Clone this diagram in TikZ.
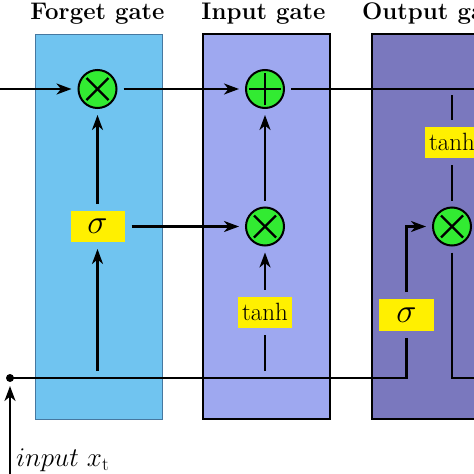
\documentclass[tikz,border=0pt]{standalone}
\usepackage{fix-cm}
\usetikzlibrary{arrows.meta}
\definecolor{forgetfill}{RGB}{112,196,240}
\definecolor{forgetdraw}{RGB}{70,120,160}
\definecolor{inputfill}{RGB}{158,168,240}
\definecolor{outputfill}{RGB}{122,120,190}
\definecolor{opgreen}{RGB}{50,235,50}
\definecolor{actyellow}{RGB}{255,240,0}
\begin{document}
\begin{tikzpicture}[x=1pt,y=-1pt,
  conn/.style={line width=2.3pt},
  arr/.style={conn,-{Stealth[length=15pt,width=11pt,inset=4.5pt]}},
  opnode/.style={circle,draw=black,line width=2pt,fill=opgreen,minimum size=38pt,inner sep=0pt,outer sep=7pt},
  actnode/.style={rectangle,fill=actyellow,minimum width=54pt,minimum height=31pt,inner sep=0pt,outer sep=7pt,font=\fontsize{25}{28}\selectfont},
  gatetitle/.style={font=\fontsize{24}{28}\selectfont\bfseries,anchor=base,inner sep=0pt},
  sym/.style={line width=2.3pt}]
\useasboundingbox (0,0) rectangle (474,474);
\begin{scope}
\clip (0,0) rectangle (474,474);
% gate boxes
\fill[forgetfill] (35,34) rectangle (162,419);
\draw[forgetdraw,line width=1pt] (35,34) rectangle (162,419);
\draw[fill=inputfill,line width=1.2pt] (203,34) rectangle (330,419);
\draw[fill=outputfill,line width=1.2pt] (372,34) rectangle (495,419);
% titles
\node[gatetitle] (tf) at (97.5,19.5) {Forget gate};
\node[gatetitle] (ti) at (263.5,19.5) {Input gate};
\node[gatetitle,anchor=base west] (to) at (362,19.5) {Output gate};
% operators
\node[opnode] (fx) at (97.5,89) {};
\node[opnode] (ip) at (265,89) {};
\node[opnode] (ix) at (265,226.5) {};
\node[opnode] (ox) at (452,226.5) {};
\foreach \n in {fx,ix,ox}{
  \draw[sym] ([shift={(-11pt,-11pt)}]\n.center) -- ([shift={(11pt,11pt)}]\n.center);
  \draw[sym] ([shift={(-11pt,11pt)}]\n.center) -- ([shift={(11pt,-11pt)}]\n.center);
}
\draw[sym] ([xshift=-16pt]ip.center) -- ([xshift=16pt]ip.center);
\draw[sym] ([yshift=-16pt]ip.center) -- ([yshift=16pt]ip.center);
% activations
\node[actnode,font=\fontsize{34}{38}\selectfont] (sf) at (97.5,226.5) {$\sigma$};
\node[actnode] (thi) at (265,312) {tanh};
\node[actnode,minimum width=55pt,minimum height=32pt,font=\fontsize{34}{38}\selectfont] (so) at (406.5,315) {$\sigma$};
\node[actnode] (tho) at (452,142) {tanh};
% input point
\node[circle,fill=black,minimum size=8pt,inner sep=0pt,outer sep=4pt] (dot) at (10,378) {};
\coordinate (inbot) at (10,480);
\coordinate (cleft) at (-5,89);
\coordinate (cright) at (480,89);
\coordinate (bright) at (480,378);
\coordinate (fstart) at (97.5,371);
\coordinate (istart) at (265,371);
\coordinate (otop) at (452,95);
% connectors
\draw[arr] (cleft) -- (fx.west);
\draw[arr] (fx.east) -- (ip.west);
\draw[conn] (ip.east) -- (cright);
\draw[arr] (sf.north) -- (fx.south);
\draw[arr] (fstart) -- (sf.south);
\draw[arr] (sf.east) -- (ix.west);
\draw[arr] (thi.north) -- (ix.south);
\draw[conn] (istart) -- (thi.south);
\draw[arr] (ix.north) -- (ip.south);
\draw[conn] (dot.center) -| (so.south);
\draw[arr] (so.north) |- (ox.west);
\draw[conn] (ox.south) |- (bright);
\draw[conn] (ox.north) -- (tho.south);
\draw[conn] (tho.north) -- (otop);
\draw[arr] (inbot) -- (dot.south);
\node[anchor=base west,font=\fontsize{27}{30}\selectfont,inner sep=0pt] (lbl) at (16,466) {$input\ x_{\mathrm{t}}$};
\end{scope}
\end{tikzpicture}
\end{document}
